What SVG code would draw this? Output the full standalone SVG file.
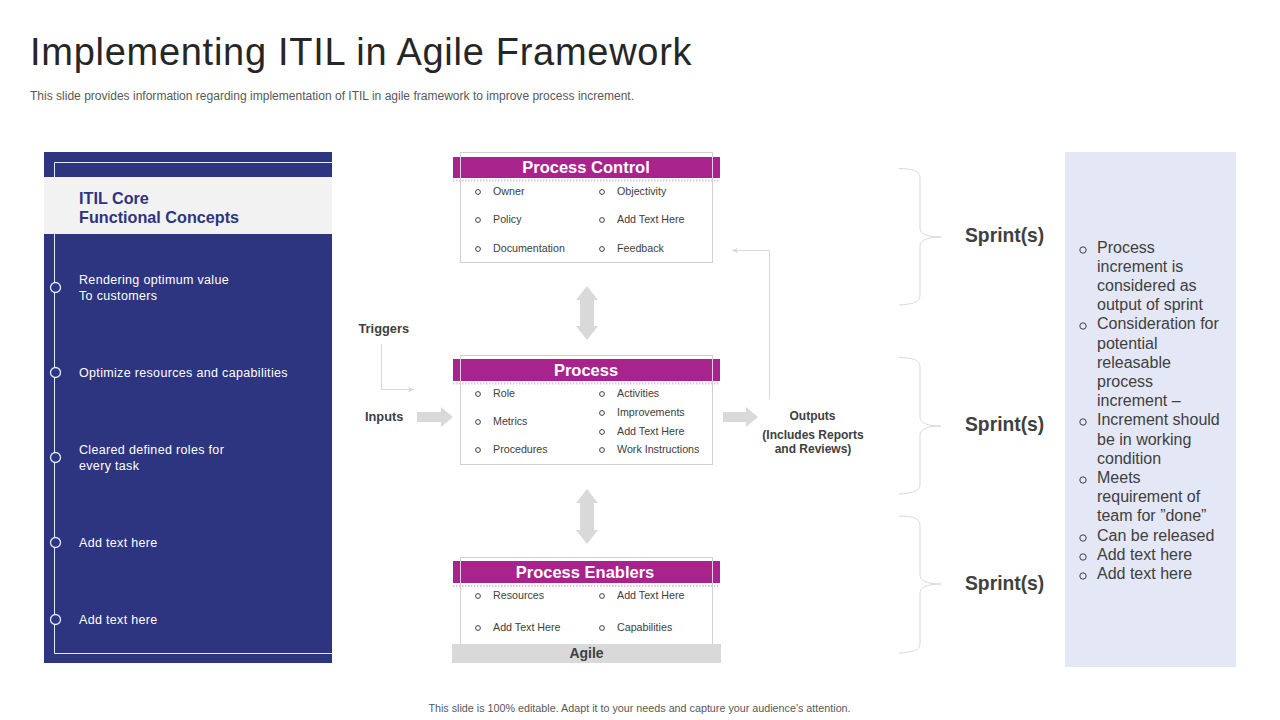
<svg xmlns="http://www.w3.org/2000/svg" width="1280" height="720" viewBox="0 0 1280 720">
<style>
text{font-family:"Liberation Sans",Arial,sans-serif;fill:#404040}
.title{font-size:38px;letter-spacing:.72px;fill:#262626}
.sub{font-size:12.04px;fill:#595959}
.foot{font-size:10.75px;fill:#595959;text-anchor:middle}
.w{font-size:12.5px;fill:#fff;letter-spacing:.33px}
.h{font-size:16.2px;font-weight:bold;fill:#2e3580}
.ph{font-size:16.5px;font-weight:bold;fill:#fff;text-anchor:middle}
.i{font-size:10.7px}
.lab{font-size:12.8px;font-weight:bold}
.c{text-anchor:middle;font-size:12px;font-weight:bold}
.sp{font-size:19.3px;font-weight:bold}
.r{font-size:16px}
.bul{fill:none;stroke:#404040;stroke-width:1}
.ln{fill:none;stroke:#d9d9d9;stroke-width:1}
.box{fill:#fff;stroke:#d0d0d0;stroke-width:1}
.bar{fill:#a9238c}
.zig{stroke:#d8c8d4;stroke-width:2;stroke-dasharray:1.5 1.5;fill:none}
.ga{fill:#d9d9d9}
.circ{fill:#2e3580;stroke:#e6e8f5;stroke-width:1.3}
.brace{fill:none;stroke:#d9d9d9;stroke-width:1}
</style>
<defs>
<marker id="ah" markerWidth="9" markerHeight="8" refX="8" refY="4" orient="auto" markerUnits="userSpaceOnUse"><path d="M8 4L2 1.2L3.5 4L2 6.8Z" fill="#d9d9d9"/></marker>
<g id="o"><circle r="2.4" class="bul"/></g>
<g id="ob"><circle r="3.2" class="bul"/></g>
</defs>
<text class="title" x="30" y="65">Implementing ITIL in Agile Framework</text>
<text class="sub" x="30" y="100">This slide provides information regarding implementation of ITIL in agile framework to improve process increment.</text>

<g id="itil-panel">
<rect x="44" y="152" width="288" height="511" fill="#2e3580"/>
<path d="M332 162.500H54.500V653.500H332" fill="none" stroke="#e6e8f5" stroke-width="1"/>
<rect x="44" y="177" width="288" height="57" fill="#f2f2f2"/>
<text class="h" x="79" y="203.500">ITIL Core</text>
<text class="h" x="79" y="222.500">Functional Concepts</text>
<circle class="circ" cx="55.500" cy="287.500" r="5"/>
<circle class="circ" cx="55.500" cy="372.500" r="5"/>
<circle class="circ" cx="55.500" cy="457.500" r="5"/>
<circle class="circ" cx="55.500" cy="542.500" r="5"/>
<circle class="circ" cx="55.500" cy="619.500" r="5"/>
<text class="w" x="79" y="284">Rendering optimum value</text>
<text class="w" x="79" y="300">To customers</text>
<text class="w" x="79" y="377">Optimize resources and capabilities</text>
<text class="w" x="79" y="454">Cleared defined roles for</text>
<text class="w" x="79" y="470">every task</text>
<text class="w" x="79" y="547">Add text here</text>
<text class="w" x="79" y="624">Add text here</text>
</g>

<g id="connectors">
<path class="ln" d="M381.500 344V389.500H414" marker-end="url(#ah)"/>
<path class="ln" d="M769.500 399V250.500H732" marker-end="url(#ah)"/>
<path class="ga" d="M417 412H441V407L453 417L441 427V422H417Z"/>
<path class="ga" d="M723 412H746V407L758 417L746 427V422H723Z"/>
<path class="ga" d="M587 286L598 300H594V326H598L587 340L576 326H580V300H576Z"/>
<path class="ga" d="M587 489L598 503H594V530H598L587 544L576 530H580V503H576Z"/>
</g>

<g id="process-control">
<rect class="box" x="460.500" y="152.500" width="252" height="110"/>
<rect class="bar" x="453" y="157" width="267" height="21"/>
<path d="M460.500 157V178M712.500 157V178" stroke="#e8cfe2" stroke-width="1"/>
<path class="zig" d="M453 180.500H720"/>
<text class="ph" x="586" y="173">Process Control</text>
<use href="#o" x="478" y="192"/><text class="i" x="493" y="195">Owner</text>
<use href="#o" x="478" y="220"/><text class="i" x="493" y="223">Policy</text>
<use href="#o" x="478" y="249"/><text class="i" x="493" y="252">Documentation</text>
<use href="#o" x="602" y="192"/><text class="i" x="617" y="195">Objectivity</text>
<use href="#o" x="602" y="220"/><text class="i" x="617" y="223">Add Text Here</text>
<use href="#o" x="602" y="249"/><text class="i" x="617" y="252">Feedback</text>
</g>

<g id="process">
<rect class="box" x="460.500" y="355.500" width="252" height="109"/>
<rect class="bar" x="453" y="359" width="267" height="22"/>
<path d="M460.500 359V381M712.500 359V381" stroke="#e8cfe2" stroke-width="1"/>
<path class="zig" d="M453 383.500H720"/>
<text class="ph" x="586" y="376">Process</text>
<use href="#o" x="478" y="394"/><text class="i" x="493" y="397">Role</text>
<use href="#o" x="478" y="422"/><text class="i" x="493" y="425">Metrics</text>
<use href="#o" x="478" y="450"/><text class="i" x="493" y="453">Procedures</text>
<use href="#o" x="602" y="394"/><text class="i" x="617" y="397">Activities</text>
<use href="#o" x="602" y="413"/><text class="i" x="617" y="416">Improvements</text>
<use href="#o" x="602" y="432"/><text class="i" x="617" y="435">Add Text Here</text>
<use href="#o" x="602" y="450"/><text class="i" x="617" y="453">Work Instructions</text>
</g>

<g id="process-enablers">
<rect class="box" x="460.500" y="557.500" width="252" height="90"/>
<rect class="bar" x="453" y="561" width="267" height="22"/>
<path d="M460.500 561V583M712.500 561V583" stroke="#e8cfe2" stroke-width="1"/>
<path class="zig" d="M453 586H720"/>
<text class="ph" x="585" y="578">Process Enablers</text>
<use href="#o" x="478" y="596"/><text class="i" x="493" y="599">Resources</text>
<use href="#o" x="478" y="628"/><text class="i" x="493" y="631">Add Text Here</text>
<use href="#o" x="602" y="596"/><text class="i" x="617" y="599">Add Text Here</text>
<use href="#o" x="602" y="628"/><text class="i" x="617" y="631">Capabilities</text>
</g>

<g id="agile">
<rect x="452" y="644" width="269" height="19" fill="#d9d9d9"/>
<text x="586.500" y="658" text-anchor="middle" font-size="14" font-weight="bold">Agile</text>
</g>

<g id="triggers"><text class="lab" x="358.500" y="333">Triggers</text></g>
<g id="inputs"><text class="lab" x="365" y="421">Inputs</text></g>
<g id="outputs">
<text class="c" x="812.500" y="420">Outputs</text>
<text class="c" x="813" y="439">(Includes Reports</text>
<text class="c" x="813" y="453">and Reviews)</text>
</g>

<g id="brace-1"><path class="brace" d="M899 168.500C912 169 920 170 920 178V228C920 234 928 237 941 237C928 237 920 240 920 246V295C920 303 912 304 899 305"/></g>
<g id="brace-2"><path class="brace" d="M899 357.500C912 358 920 359 920 367V417C920 423 928 426 941 426C928 426 920 429 920 435V484C920 492 912 493 899 494"/></g>
<g id="brace-3"><path class="brace" d="M899 516C912 516.500 920 517.500 920 525V575C920 581 928 584 941 584C928 584 920 587 920 593V643C920 651 912 652 899 653"/></g>
<g id="sprint-1"><text class="sp" x="965" y="242">Sprint(s)</text></g>
<g id="sprint-2"><text class="sp" x="965" y="431">Sprint(s)</text></g>
<g id="sprint-3"><text class="sp" x="965" y="590">Sprint(s)</text></g>

<g id="notes">
<rect x="1065" y="152" width="171" height="515" fill="#e4e7f5"/>
<use href="#ob" x="1083" y="250"/>
<text class="r" x="1097" y="253">Process</text>
<text class="r" x="1097" y="272">increment is</text>
<text class="r" x="1097" y="291">considered as</text>
<text class="r" x="1097" y="310">output of sprint</text>
<use href="#ob" x="1083" y="326"/>
<text class="r" x="1097" y="329">Consideration for</text>
<text class="r" x="1097" y="349">potential</text>
<text class="r" x="1097" y="368">releasable</text>
<text class="r" x="1097" y="387">process</text>
<text class="r" x="1097" y="406">increment –</text>
<use href="#ob" x="1083" y="422"/>
<text class="r" x="1097" y="425">Increment should</text>
<text class="r" x="1097" y="445">be in working</text>
<text class="r" x="1097" y="464">condition</text>
<use href="#ob" x="1083" y="480"/>
<text class="r" x="1097" y="483">Meets</text>
<text class="r" x="1097" y="502">requirement of</text>
<text class="r" x="1097" y="521">team for ”done”</text>
<use href="#ob" x="1083" y="538"/>
<text class="r" x="1097" y="541">Can be released</text>
<use href="#ob" x="1083" y="557"/>
<text class="r" x="1097" y="560">Add text here</text>
<use href="#ob" x="1083" y="576"/>
<text class="r" x="1097" y="579">Add text here</text>
</g>

<text class="foot" x="639.500" y="712">This slide is 100% editable. Adapt it to your needs and capture your audience's attention.</text>
</svg>
